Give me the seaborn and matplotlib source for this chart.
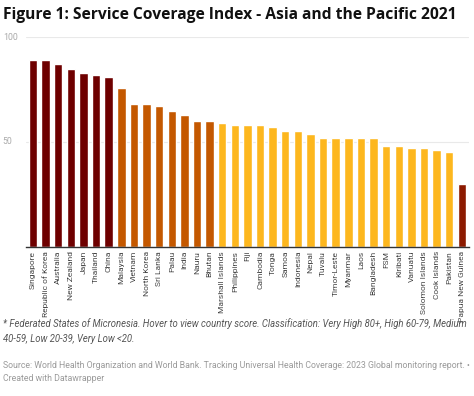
import matplotlib
matplotlib.use("Agg")
import matplotlib.pyplot as plt
import seaborn as sns
import pandas as pd

# Service coverage index 2021
countries = [
    "Singapore", "Republic of Korea", "Australia", "New Zealand", "Japan",
    "Thailand", "China", "Malaysia", "Vietnam", "North Korea", "Sri Lanka",
    "Palau", "India", "Nauru", "Bhutan", "Marshall Islands", "Philippines",
    "Fiji", "Cambodia", "Tonga", "Samoa", "Indonesia", "Nepal", "Tuvalu",
    "Timor-Leste", "Myanmar", "Laos", "Bangladesh", "FSM", "Kiribati",
    "Vanuatu", "Solomon Islands", "Cook Islands", "Pakistan", "Papua New Guinea",
]
scores = [
    89, 89, 87, 85, 83, 82, 81, 76, 68, 68, 67,
    65, 63, 60, 60, 59, 58, 58, 58, 57, 55, 55, 54, 52,
    52, 52, 52, 52, 48, 48, 47, 47, 46, 45, 30,
]
classes = ["Very High"] * 7 + ["High"] * 8 + ["Medium"] * 19 + ["Low"]
class_colors = {"Very High": "#6e0000", "High": "#c45800",
                "Medium": "#fdb71e", "Low": "#8c1a00"}

df = pd.DataFrame({"country": countries, "score": scores, "cls": classes})

sns.set_theme(style="white")
plt.rcParams["font.family"] = ["Roboto", "DejaVu Sans"]

fig = plt.figure(figsize=(4.74, 3.96), dpi=100)
ax = fig.add_axes([0.055, 0.377, 0.934, 0.529])

sns.barplot(data=df, x="country", y="score", hue="cls", palette=class_colors,
            dodge=False, width=0.67, saturation=1, legend=False, ax=ax)

ax.set_ylim(0, 100)
ax.set_xlim(-0.55, len(countries) - 0.45)
ax.set_yticks([50, 100])
ax.set_yticklabels([])
for v in [50, 100]:
    ax.axhline(v, color="#e9e9e9", lw=0.8, zorder=0)
    fig.text(0.006, ax.transData.transform((0, v))[1] / fig.bbox.height,
             str(v), color="#aaaaaa", fontsize=6.3, va="center", ha="left")
ax.tick_params(axis="y", length=0)
ax.tick_params(axis="x", length=0, pad=3)
ax.set_xticks(range(len(countries)))
ax.set_xticklabels(countries, rotation=90, fontsize=6.0, color="#444444")
ax.set_xlabel("")
ax.set_ylabel("")
for s in ["top", "right", "left"]:
    ax.spines[s].set_visible(False)
ax.spines["bottom"].set_color("#333333")
ax.spines["bottom"].set_linewidth(1.0)
ax.set_axisbelow(True)

fig.text(0.006, 0.962, "Figure 1: Service Coverage Index - Asia and the Pacific 2021",
         fontsize=11.25, fontweight="bold", family=["Open Sans", "DejaVu Sans"],
         color="#111111", va="center")

fig.text(0.006, 0.183, "* Federated States of Micronesia. Hover to view country score. "
         "Classification: Very High 80+, High 60-79, Medium",
         fontsize=6.85, style="italic", color="#555555", va="center")
fig.text(0.006, 0.143, "40-59, Low 20-39, Very Low <20.",
         fontsize=6.85, style="italic", color="#555555", va="center")
fig.text(0.006, 0.078, "Source: World Health Organization and World Bank. Tracking Universal "
         "Health Coverage: 2023 Global monitoring report. \u2022",
         fontsize=6.3, color="#9a9a9a", va="center")
fig.text(0.006, 0.045, "Created with Datawrapper",
         fontsize=6.3, color="#9a9a9a", va="center")

fig.savefig("out.png", dpi=100, facecolor="white")
